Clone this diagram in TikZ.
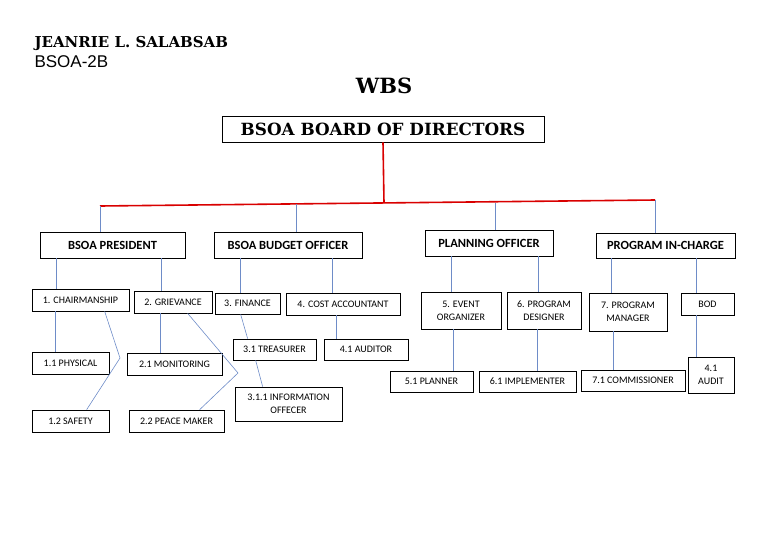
\documentclass[tikz,border=0pt]{standalone}
\usepackage{fontspec}
\setmainfont{Carlito}
\newfontfamily\slab{DejaVu Serif}
\newfontfamily\sans{Liberation Sans}
\begin{document}
\begin{tikzpicture}[x=1pt,y=-1pt,
  box/.style={draw=black,line width=0.7pt,inner sep=0pt,align=center,font=\fontsize{10}{13}\selectfont},
  big/.style={box,font=\bfseries\fontsize{12.5}{14}\selectfont},
  conn/.style={draw={rgb,255:red,110;green,140;blue,200},line width=0.6pt},
  thick conn/.style={conn,line width=0.9pt}]
\useasboundingbox (0,0) rectangle (768,544);
\newcommand{\mybox}[7][box]{\node[#1,minimum width={#5-#3},minimum height={#6-#4}] (#2) at ({(#3+#5)/2},{(#4+#6)/2}) {#7};}
\node[anchor=west,font=\slab\bfseries\fontsize{15}{16}\selectfont] (name) at (31,43) {JEANRIE L. SALABSAB};
\node[anchor=west,font=\sans\fontsize{17}{18}\selectfont] (sec) at (31,62) {BSOA-2B};
\node[font=\slab\bfseries\fontsize{21}{22}\selectfont] (wbs) at (384,86) {WBS};
\mybox[box,font=\slab\bfseries\fontsize{16.8}{18}\selectfont]{root}{222}{116}{544}{142}{BSOA BOARD OF DIRECTORS}
\mybox[big]{pres}{40}{232}{185}{258}{BSOA PRESIDENT}
\mybox[big]{budg}{214}{232}{362}{258}{BSOA BUDGET OFFICER}
\mybox[big]{plan}{425}{230}{553}{256}{PLANNING OFFICER}
\mybox[big]{prog}{596}{233}{735}{258}{PROGRAM IN-CHARGE}
\mybox{chair}{32}{289}{129}{311}{1. CHAIRMANSHIP}
\mybox{griev}{134}{291}{212}{313}{2. GRIEVANCE}
\mybox{fin}{215}{293}{280}{314}{3. FINANCE}
\mybox{cost}{286}{293}{400}{315}{4. COST ACCOUNTANT}
\mybox{event}{421}{292}{501}{329}{5. EVENT\\ORGANIZER}
\mybox{design}{507}{292}{581}{329}{6. PROGRAM\\DESIGNER}
\mybox{manag}{589}{293}{667}{331}{7. PROGRAM\\MANAGER}
\mybox{bod}{681}{293}{734}{315}{BOD}
\mybox{phys}{32}{352}{109}{374}{1.1 PHYSICAL}
\mybox{safe}{32}{410}{109}{432}{1.2 SAFETY}
\mybox{moni}{127}{353}{222}{375}{2.1 MONITORING}
\mybox{peace}{129}{410}{224}{432}{2.2 PEACE MAKER}
\mybox{treas}{233}{339}{316}{360}{3.1 TREASURER}
\mybox{info}{235}{387}{342}{421}{3.1.1 INFORMATION\\OFFECER}
\mybox{audr}{324}{339}{408}{360}{4.1 AUDITOR}
\mybox{planr}{390}{371}{473}{392}{5.1 PLANNER}
\mybox{impl}{479}{371}{576}{392}{6.1 IMPLEMENTER}
\mybox{comm}{581}{370}{685}{391}{7.1 COMMISSIONER}
\mybox{audit}{688}{357}{734}{393}{4.1\\AUDIT}
% red trunk
\coordinate (hl) at (100,206); \coordinate (hr) at (655,200); \coordinate (hm) at (384,203);
\draw[red!85!black,line width=1.6pt] (root.south) -- (hm);
\draw[red!85!black,line width=1.6pt] (hl) -- (hr);
\draw[thick conn] (hl) -- (pres.north -| hl);
\draw[thick conn] (296,204) coordinate (c2) -- (budg.north -| c2);
\draw[conn] (495,203) coordinate (c3) -- (plan.north -| c3);
\draw[conn] (hr) -- (prog.north -| hr);
% level 2
\draw[conn] ([xshift=17pt]pres.south west) -- ([xshift=25pt]chair.north west);
\draw[thick conn] ([xshift=122pt]pres.south west) -- ([xshift=28pt]griev.north west);
\draw[thick conn] ([xshift=27pt]budg.south west) -- ([xshift=26pt]fin.north west);
\draw[conn] ([xshift=119pt]budg.south west) -- ([xshift=47pt]cost.north west);
\draw[conn] ([xshift=27pt]plan.south west) -- ([xshift=31pt]event.north west);
\draw[conn] ([xshift=114pt]plan.south west) -- ([xshift=32pt]design.north west);
\draw[thick conn] ([xshift=16pt]prog.south west) -- ([xshift=23pt]manag.north west);
\draw[conn] ([xshift=101pt]prog.south west) -- ([xshift=16pt]bod.north west);
% level 3
\draw[thick conn] ([xshift=24pt]chair.south west) -- ([xshift=24pt]phys.north west);
\draw[conn] ([xshift=73pt]chair.south west) -- (120,358) -- ([xshift=55pt]safe.north west);
\draw[thick conn] ([xshift=27pt]griev.south west) -- ([xshift=34pt]moni.north west);
\draw[conn] ([xshift=54pt]griev.south west) -- (238,373) -- ([xshift=71pt]peace.north west);
\draw[conn] ([xshift=26pt]fin.south west) -- ([xshift=15pt]treas.north west);
\draw[conn] ([xshift=23pt]treas.south west) -- ([xshift=28pt]info.north west);
\draw[conn] ([xshift=51pt]cost.south west) -- ([xshift=13pt]audr.north west);
\draw[thick conn] ([xshift=33pt]event.south west) -- ([xshift=64pt]planr.north west);
\draw[thick conn] ([xshift=31pt]design.south west) -- ([xshift=59pt]impl.north west);
\draw[thick conn] ([xshift=25pt]manag.south west) -- ([xshift=33pt]comm.north west);
\draw[thick conn] ([xshift=16pt]bod.south west) -- ([xshift=9pt]audit.north west);
\end{tikzpicture}
\end{document}
